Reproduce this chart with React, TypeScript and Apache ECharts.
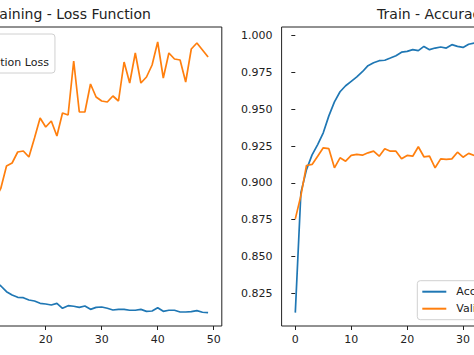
import React, { useEffect, useRef } from "react";
import * as echarts from "echarts";

// Left panel: loss (y-axis is cropped out of view in the reference)
const trainLoss = [
  0.4, 0.25, 0.2, 0.17, 0.15, 0.13, 0.115, 0.1, 0.09, 0.08, 0.072, 0.066,
  0.06, 0.0515, 0.0465, 0.043, 0.0425, 0.039, 0.0375, 0.034, 0.033, 0.0315,
  0.034, 0.0266, 0.0305, 0.0296, 0.028, 0.03, 0.025, 0.028, 0.0285, 0.0266,
  0.024, 0.025, 0.025, 0.0236, 0.0236, 0.025, 0.022, 0.0225, 0.0275, 0.022,
  0.0236, 0.0236, 0.021, 0.021, 0.0215, 0.023, 0.0206, 0.02,
];
const valLoss = [
  0.26, 0.2, 0.17, 0.16, 0.15, 0.155, 0.16, 0.17, 0.175, 0.19, 0.185, 0.19,
  0.207, 0.24, 0.2445, 0.261, 0.2625, 0.2535, 0.282, 0.312, 0.2985, 0.3075,
  0.285, 0.3195, 0.3165, 0.3975, 0.321, 0.321, 0.363, 0.3435, 0.3375, 0.336,
  0.345, 0.3375, 0.396, 0.3645, 0.4095, 0.3645, 0.3735, 0.3915, 0.426, 0.372,
  0.4095, 0.4005, 0.399, 0.366, 0.4155, 0.4245, 0.414, 0.4035,
];

// Right panel: accuracy
const trainAcc = [
  0.8118, 0.8933, 0.909, 0.919, 0.926, 0.934, 0.9455, 0.955, 0.9619, 0.966,
  0.969, 0.972, 0.9755, 0.9796, 0.9816, 0.983, 0.9833, 0.9848, 0.9864, 0.9888,
  0.9893, 0.9905, 0.9898, 0.9927, 0.9905, 0.9916, 0.9923, 0.9916, 0.9939,
  0.9927, 0.992, 0.9942, 0.995, 0.9948, 0.9955, 0.9951, 0.996, 0.9957, 0.9962,
  0.9965, 0.9961, 0.9968, 0.997, 0.9966, 0.9972, 0.9975, 0.9971, 0.9976,
  0.9978, 0.998,
];
const valAcc = [
  0.8755, 0.8913, 0.9118, 0.9125, 0.9181, 0.9238, 0.9232, 0.9102, 0.917,
  0.9147, 0.9186, 0.9193, 0.9188, 0.9204, 0.9215, 0.9181, 0.9232, 0.9215,
  0.9215, 0.9163, 0.9186, 0.9181, 0.9245, 0.9177, 0.9181, 0.9102, 0.9163,
  0.9159, 0.9163, 0.9208, 0.9174, 0.92, 0.9186, 0.9192, 0.9175, 0.9205,
  0.9188, 0.916, 0.9195, 0.921, 0.9183, 0.917, 0.9199, 0.9215, 0.918, 0.9192,
  0.9165, 0.9201, 0.9188, 0.9196,
];

const xTicks = [0, 10, 20, 30, 40, 50];
const accTicks = [0.825, 0.85, 0.875, 0.9, 0.925, 0.95, 0.975, 1.0];

const titles = ["Training - Loss Function", "Train - Accuracy"];
const lossNames = ["Loss", "Validation Loss"];
const accNames = ["Accuracy", "Validation Accuracy"];

const BLUE = "#1f77b4";
const ORANGE = "#ff7f0e";
const FONT = "DejaVu Sans";
const OX = 100; // chart canvas is shifted left by this many px (reference is cropped)

const pairs = (arr: number[]) => arr.map((v, i) => [i, v]);

export default function App() {
  const ref = useRef<HTMLDivElement>(null);
  useEffect(() => {
    if (!ref.current) return;
    const chart = echarts.init(ref.current, undefined, { renderer: "svg" });
    const gridStyle = {
      show: true,
      borderColor: "#222",
      borderWidth: 1,
      backgroundColor: "transparent",
      top: 27,
      height: 299,
      containLabel: false,
    };
    const xAxisBase = (gridIndex: number) => ({
      type: "value",
      gridIndex,
      min: -2.45,
      max: 51.45,
      splitLine: { show: false },
      axisLine: { show: false },
      axisTick: {
        show: true,
        inside: false,
        length: 4,
        customValues: xTicks,
        lineStyle: { color: "#222", width: 1 },
      },
      axisLabel: {
        show: true,
        customValues: xTicks,
        margin: 8,
        fontFamily: FONT,
        fontSize: 11,
        color: "#222",
      },
    });
    const legendBase = {
      orient: "vertical",
      icon: "rect",
      itemWidth: 24,
      itemHeight: 2,
      itemGap: 3,
      padding: [4, 6, 4, 5],
      backgroundColor: "rgba(255,255,255,0.8)",
      borderColor: "#d0d0d0",
      borderWidth: 1,
      borderRadius: 3,
      formatter: (name: string) => `{g|}${name}`,
      textStyle: {
        fontFamily: FONT,
        fontSize: 11,
        color: "#222",
        lineHeight: 14,
        rich: { g: { width: 5, fontSize: 11, lineHeight: 14 } },
      },
    };
    const titleStyle = { fontFamily: FONT, fontSize: 14, fontWeight: "normal", color: "#222" };
    chart.setOption({
      animation: false,
      backgroundColor: "#fff",
      title: [
        { text: titles[0], left: OX + 69, top: 7, textAlign: "center", padding: 0, textStyle: titleStyle },
        { text: titles[1], left: OX + 432.8, top: 7, textAlign: "center", padding: 0, textStyle: titleStyle },
      ],
      grid: [
        { ...gridStyle, left: OX - 80, width: 301.8 },
        { ...gridStyle, left: OX + 281.6, width: 301.4 },
      ],
      xAxis: [xAxisBase(0), xAxisBase(1)],
      yAxis: [
        {
          type: "value",
          gridIndex: 0,
          min: 0,
          max: 0.4485,
          show: false,
          splitLine: { show: false },
        },
        {
          type: "value",
          gridIndex: 1,
          min: 0.8027,
          max: 1.0059,
          splitLine: { show: false },
          axisLine: { show: false },
          axisTick: {
            show: true,
            inside: false,
            length: 4,
            customValues: accTicks,
            lineStyle: { color: "#222", width: 1 },
          },
          axisLabel: {
            show: true,
            customValues: accTicks,
            margin: 9,
            fontFamily: FONT,
            fontSize: 11,
            color: "#222",
            formatter: (v: number) => v.toFixed(3),
          },
        },
      ],
      legend: [
        { ...legendBase, data: lossNames, left: OX - 72, top: 34 },
        { ...legendBase, data: accNames, left: OX + 417.3, top: 280.7 },
      ],
      series: [
        {
          name: lossNames[0],
          type: "line",
          xAxisIndex: 0,
          yAxisIndex: 0,
          data: pairs(trainLoss),
          showSymbol: false,
          symbol: "none",
          lineStyle: { color: BLUE, width: 1.7 },
          itemStyle: { color: BLUE },
        },
        {
          name: lossNames[1],
          type: "line",
          xAxisIndex: 0,
          yAxisIndex: 0,
          data: pairs(valLoss),
          showSymbol: false,
          symbol: "none",
          lineStyle: { color: ORANGE, width: 1.7 },
          itemStyle: { color: ORANGE },
        },
        {
          name: accNames[0],
          type: "line",
          xAxisIndex: 1,
          yAxisIndex: 1,
          data: pairs(trainAcc),
          showSymbol: false,
          symbol: "none",
          lineStyle: { color: BLUE, width: 1.7 },
          itemStyle: { color: BLUE },
        },
        {
          name: accNames[1],
          type: "line",
          xAxisIndex: 1,
          yAxisIndex: 1,
          data: pairs(valAcc),
          showSymbol: false,
          symbol: "none",
          lineStyle: { color: ORANGE, width: 1.7 },
          itemStyle: { color: ORANGE },
        },
      ],
    });
    return () => chart.dispose();
  }, []);
  return (
    <div
      style={{
        position: "fixed",
        left: 0,
        top: 0,
        width: 474,
        height: 355,
        overflow: "hidden",
        background: "#fff",
      }}
    >
      <div
        ref={ref}
        style={{ position: "absolute", left: -OX, top: 0, width: 700, height: 355 }}
      />
    </div>
  );
}
